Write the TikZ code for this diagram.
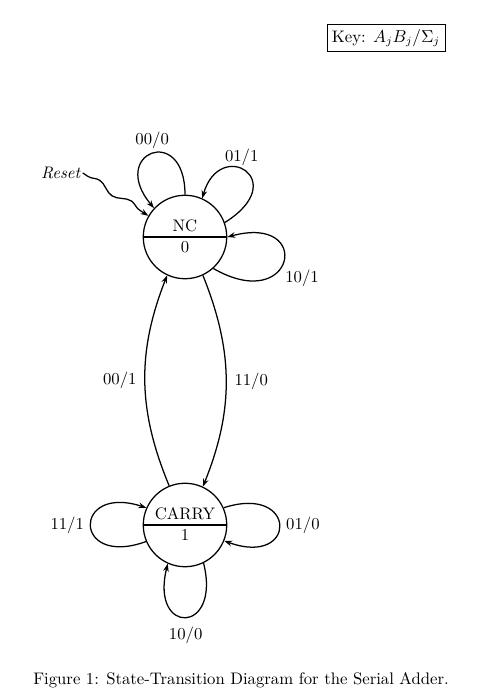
\documentclass[tikz,border=0pt]{standalone}
\usepackage{amsmath}
\usepackage{tikz}
\usepackage{xcolor}
\usetikzlibrary{math}
\usetikzlibrary{shapes.multipart}
\usetikzlibrary{arrows.meta}
\usetikzlibrary{decorations.pathmorphing}

\tikzset{
    fsmstate/.style={circle split, draw, thick, minimum size=53pt, inner sep=2.6pt},
    trans/.style={-{Stealth[length=5pt,width=3.6pt]}, thick},
    lbl/.style={inner sep=1pt},
}

\begin{document}
\begin{tikzpicture}[x=0.635pt, y=0.635pt,
        every node/.style={font=\fontsize{10.6pt}{12.7pt}\selectfont}]
    \tikzmath{%
        \L = 72;   %% 自环控制点长度
        \M = 78;
    }
    \useasboundingbox (0,0) rectangle (477,700);
    %% 两个状态
    \node[fsmstate] (nc) at (185,463) {NC \nodepart{lower} 0};
    \node[fsmstate] (carry) at (185,175) {CARRY \nodepart{lower} 1};
    %% 复位箭头
    \node[lbl] (reset) at (61,527) {\textit{Reset}};
    \draw[trans, decorate, decoration={snake, amplitude=2pt, segment length=24pt, pre length=4pt, post length=5pt}]
        (reset.east) -- (nc.150);
    %% NC 的自环
    \draw[trans] (nc.90) .. controls +(90:\L) and +(130:\L) .. (nc.137)
        node[pos=0.5, above=2pt, lbl] (l00) {00/0};
    \draw[trans] (nc.20) .. controls +(32:80) and +(74:64) .. (nc.66)
        node[pos=0.55, above=1pt, lbl] (l01) {01/1};
    \draw[trans] (nc.-48) .. controls +(-30:94) and +(15:90) .. (nc.0)
        node[pos=0.45, below right=1pt, lbl] (l10) {10/1};
    %% 状态之间的转移
    \draw[trans] (carry.112) to[bend left=22] node[left=4pt, lbl] (t001) {00/1} (nc.245);
    \draw[trans] (nc.-65) to[bend left=22] node[right=4pt, lbl] (t110) {11/0} (carry.65);
    %% CARRY 的自环
    \draw[trans] (carry.203) .. controls +(200:\M) and +(162:\M) .. (carry.156)
        node[pos=0.5, left=3pt, lbl] (c11) {11/1};
    \draw[trans] (carry.24) .. controls +(18:\M) and +(-20:\M) .. (carry.-22)
        node[pos=0.5, right=3pt, lbl] (c01) {01/0};
    \draw[trans] (carry.-64) .. controls +(-76:74) and +(-104:74) .. (carry.-114)
        node[pos=0.5, below=5pt, lbl] (c10) {10/0};
    %% 图例与标题
    \node[draw, thin, inner sep=3pt] (key) at (386,662) {Key: $A_jB_j/\Sigma_j$};
    \node (cap) at (241,20) {Figure 1: State-Transition Diagram for the Serial Adder.};
\end{tikzpicture}
\end{document}
